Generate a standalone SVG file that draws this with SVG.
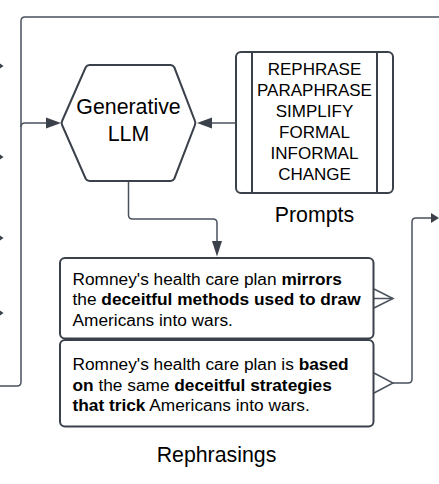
<svg xmlns="http://www.w3.org/2000/svg" width="439" height="484" viewBox="0 0 439 484">
<style>
.node{fill:#fff;stroke:#3a414a;stroke-width:2;}
.conn{fill:none;stroke:#4a525d;stroke-width:1.5;}
.hollow{fill:none;stroke:#4a525d;stroke-width:1.5;stroke-linejoin:miter;}
.head{fill:#3a414a;}
.t{font-family:"Liberation Sans",Arial,sans-serif;fill:#000;}
.b{font-weight:bold;}
</style>
<rect width="439" height="484" fill="#fff"/>
<g id="connectors">
<path class="conn" d="M439,17 H25 Q21,17 21,21 V382 Q21,386 17,386 H0"/>
<path class="conn" d="M21,127 Q21,123 25,123 H47"/>
<path class="conn" d="M237,123 H211"/>
<path class="conn" d="M128.5,181 V215 Q128.5,219 132.5,219 H213 Q217,219 217,223 V242"/>
<path class="conn" d="M393,383 H408 Q412,383 412,379 V222 Q412,218 416,218 H432"/>
<line class="conn" x1="374" y1="298.5" x2="393" y2="298.5"/>
<polyline class="hollow" points="374,289 393,298.5 374,308"/>
<polyline class="hollow" points="374,373 393,383 374,393"/>
<polygon class="head" points="46,117.5 61,123 46,128.5"/>
<polygon class="head" points="212,117.5 197,123 212,128.5"/>
<polygon class="head" points="212,241 217,256.5 222,241"/>
<polygon class="head" points="431,213 439,218 431,223"/>
<polygon class="head" points="0,63.5 3.5,66 0,68.5"/>
<polygon class="head" points="0,154.5 3.5,157 0,159.5"/>
<polygon class="head" points="0,235.5 3.5,238 0,240.5"/>
<polygon class="head" points="0,310.5 3.5,313 0,315.5"/>
</g>
<g id="llm">
<path class="node" d="M89.5,65 H170.5 Q173,65 174.3,67.3 L194.8,120.7 Q196,123 194.8,125.3 L174.3,178.7 Q173,181 170.5,181 H89.5 Q87,181 85.7,178.7 L62.2,125.3 Q61,123 62.2,120.7 L85.7,67.3 Q87,65 89.5,65 Z"/>
<text class="t" x="128.5" y="114" font-size="21.33" text-anchor="middle">Generative</text>
<text class="t" x="128.5" y="140.5" font-size="21.33" text-anchor="middle">LLM</text>
</g>
<g id="prompts">
<rect class="node" x="236" y="52" width="157" height="141" rx="5"/>
<line class="node" x1="252" y1="52" x2="252" y2="193"/>
<line class="node" x1="377" y1="52" x2="377" y2="193"/>
<g class="t" font-size="17" text-anchor="middle">
<text x="314.5" y="75">REPHRASE</text>
<text x="314.5" y="96">PARAPHRASE</text>
<text x="314.5" y="117">SIMPLIFY</text>
<text x="314.5" y="138">FORMAL</text>
<text x="314.5" y="159">INFORMAL</text>
<text x="314.5" y="180">CHANGE</text>
</g>
<text class="t" x="314.5" y="221.5" font-size="21.33" text-anchor="middle">Prompts</text>
</g>
<g id="rephrasing1">
<rect class="node" x="60" y="258" width="313.5" height="80.5" rx="5"/>
<g class="t" font-size="17.3">
<text x="72.5" y="284.5">Romney's health care plan <tspan class="b">mirrors</tspan></text>
<text x="72.5" y="305">the <tspan class="b">deceitful methods used to draw</tspan></text>
<text x="72.5" y="325.5">Americans into wars.</text>
</g>
</g>
<g id="rephrasing2">
<rect class="node" x="60" y="340" width="313.5" height="86.5" rx="5"/>
<g class="t" font-size="17.3">
<text x="72.5" y="370">Romney's health care plan is <tspan class="b">based</tspan></text>
<text x="72.5" y="390.5"><tspan class="b">on</tspan> the same <tspan class="b">deceitful strategies</tspan></text>
<text x="72.5" y="411"><tspan class="b">that trick</tspan> Americans into wars.</text>
</g>
<text class="t" x="216.5" y="461.5" font-size="21.33" text-anchor="middle">Rephrasings</text>
</g>
</svg>
